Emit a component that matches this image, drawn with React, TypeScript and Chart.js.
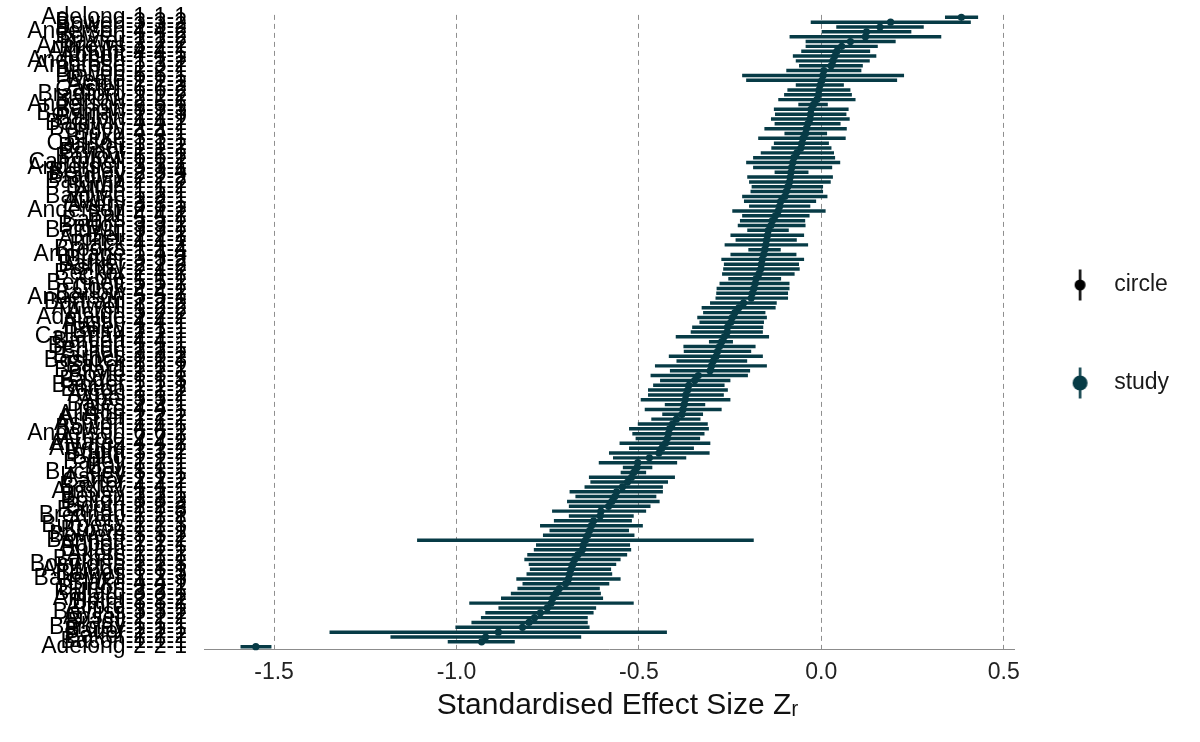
import React, { useEffect, useRef } from 'react';
import { Chart, registerables } from 'chart.js';

Chart.register(...registerables);

// ---- data (top row first) ----
const studyLabels = [
  'Adelong-1-1-1', 'Bowen-3-3-2', 'Bowen-2-3-2', 'Anderson-4-4-2', 'Bowen-1-1-2', 'Baxter-2-2-2', 'Andrews-3-2-2', 'Albright-4-4-1', 'Abbott-4-4-1', 'Anderson-1-1-2',
  'Ambrose-1-3-2', 'Bishop-2-2-1', 'Bowen-5-5-1', 'Beale-1-1-1', 'Acton-2-2-2', 'Castell-6-6-2', 'Bradford-1-1-2', 'Barlow-2-2-2', 'Anderson-2-5-1', 'Barlow-3-3-3',
  'Bowman-2-2-3', 'Barlow-1-1-1', 'Baldwin-4-4-2', 'Bentley-2-2-1', 'Boyd-4-4-1', 'Burke-3-3-1', 'Carlson-1-1-1', 'Barker-1-1-2', 'Bryant-2-2-1', 'Barlow-5-5-2',
  'Campbell-1-1-2', 'Anderson-3-3-1', 'Bentley-2-3-4', 'Bradley-2-2-2', 'Baldwin-2-2-2', 'Burns-1-1-2', 'Allen-1-1-1', 'Baldwin-1-2-1', 'Atkins-2-2-1', 'Avery-3-3-1',
  'Anderson-2-1-2', 'Ball-4-4-2', 'Banks-5-5-1', 'Barton-3-3-2', 'Baldwin-3-3-1', 'Bell-2-2-2', 'Archer-1-1-1', 'Black-4-4-2', 'Brooks-1-1-4', 'Armitage-1-4-4',
  'Butler-3-3-2', 'Barker-2-2-2', 'Ashby-2-1-2', 'Becker-2-4-2', 'Cole-1-1-1', 'Bennett-5-5-2', 'Cook-2-2-1', 'Barlow-4-4-2', 'Anderson-5-5-1', 'Bartram-2-2-2',
  'Amwell-1-2-2', 'Acton-3-2-2', 'Adelaide-2-2-2', 'Austin-4-4-1', 'Bailey-1-1-1', 'Baird-2-1-1', 'Callahan-2-2-1', 'Bartlett-4-4-1', 'Benson-1-1-1', 'Bolton-2-2-1',
  'Barnes-3-3-2', 'Bostock-2-2-3', 'Baker-1-1-1', 'Ballard-2-2-2', 'Boyle-3-3-1', 'Baxter-1-1-3', 'Banner-1-1-1', 'Bacon-2-2-2', 'Ayres-1-1-2', 'Abel-3-3-1',
  'Bates-2-2-1', 'Bird-4-4-1', 'Allison-1-2-1', 'Archer-2-2-2', 'Ashton-1-1-1', 'Bowen-4-4-1', 'Anderson-6-6-2', 'Arnold-2-2-1', 'Alvarez-4-4-2', 'Atwood-1-1-1',
  'Bright-3-3-2', 'Bond-1-1-1', 'Bailey-2-2-1', 'Ball-1-1-1', 'Buckley-3-3-1', 'Astley-1-1-1', 'Carter-2-2-2', 'Baxter-4-4-1', 'Ainsley-1-1-1', 'Bevan-2-2-1',
  'Bolton-3-3-2', 'Booth-2-2-2', 'Barrett-1-1-3', 'Brennan-2-2-2', 'Avery-1-1-1', 'Burgess-2-2-3', 'Brown-1-1-1', 'Bowers-3-3-2', 'Bennett-1-1-2', 'Abbott-2-2-1',
  'Bolton-1-1-1', 'Akers-2-2-2', 'Barnes-1-1-1', 'Bosworth-2-2-3', 'Aldridge-3-3-1', 'Baines-1-1-3', 'Bakewell-1-2-3', 'Blake-4-4-1', 'Burton-2-2-2', 'Ballard-3-3-1',
  'Ambler-2-2-2', 'Baird-3-3-2', 'Alford-1-1-1', 'Bayliss-3-3-2', 'Ansell-2-2-2', 'Brady-1-1-1', 'Barclay-1-1-1', 'Bauer-2-2-1', 'Baker-2-2-2', 'Bacon-1-1-1',
  'Adelong-2-2-1',
];

const effectSizes = [
  0.384, 0.190, 0.161, 0.124, 0.121, 0.080, 0.056, 0.043, 0.037, 0.032,
  0.027, 0.007, 0.005, 0.002, -0.003, -0.006, -0.008, -0.012, -0.021, -0.028,
  -0.029, -0.031, -0.037, -0.041, -0.043, -0.050, -0.053, -0.056, -0.067, -0.075,
  -0.078, -0.081, -0.083, -0.085, -0.087, -0.092, -0.096, -0.100, -0.111, -0.114,
  -0.118, -0.126, -0.134, -0.138, -0.145, -0.147, -0.150, -0.152, -0.155, -0.158,
  -0.162, -0.164, -0.166, -0.171, -0.179, -0.181, -0.185, -0.189, -0.192, -0.213,
  -0.226, -0.237, -0.244, -0.248, -0.257, -0.258, -0.266, -0.273, -0.279, -0.284,
  -0.288, -0.296, -0.301, -0.305, -0.337, -0.347, -0.363, -0.366, -0.371, -0.373,
  -0.376, -0.379, -0.382, -0.397, -0.408, -0.416, -0.419, -0.422, -0.427, -0.437,
  -0.445, -0.471, -0.503, -0.505, -0.514, -0.520, -0.531, -0.545, -0.561, -0.566,
  -0.574, -0.583, -0.604, -0.606, -0.624, -0.630, -0.635, -0.640, -0.646, -0.652,
  -0.655, -0.667, -0.676, -0.681, -0.686, -0.690, -0.693, -0.701, -0.718, -0.727,
  -0.736, -0.740, -0.751, -0.770, -0.786, -0.801, -0.819, -0.885, -0.920, -0.931,
  -1.550,
];

const ciLower = [
  0.340, -0.028, 0.042, 0.002, -0.086, -0.042, -0.042, -0.054, -0.077, -0.069,
  -0.060, -0.095, -0.216, -0.205, -0.069, -0.092, -0.101, -0.117, -0.062, -0.129,
  -0.126, -0.137, -0.127, -0.155, -0.100, -0.172, -0.129, -0.136, -0.165, -0.186,
  -0.205, -0.186, -0.127, -0.202, -0.197, -0.190, -0.193, -0.216, -0.211, -0.197,
  -0.243, -0.216, -0.222, -0.228, -0.202, -0.248, -0.234, -0.264, -0.199, -0.248,
  -0.273, -0.266, -0.268, -0.271, -0.254, -0.278, -0.286, -0.287, -0.289, -0.304,
  -0.327, -0.323, -0.339, -0.333, -0.353, -0.357, -0.398, -0.307, -0.377, -0.376,
  -0.417, -0.396, -0.455, -0.414, -0.467, -0.441, -0.460, -0.474, -0.474, -0.494,
  -0.428, -0.483, -0.435, -0.465, -0.502, -0.526, -0.517, -0.508, -0.552, -0.526,
  -0.581, -0.570, -0.609, -0.543, -0.549, -0.636, -0.632, -0.648, -0.689, -0.673,
  -0.696, -0.691, -0.737, -0.691, -0.732, -0.770, -0.744, -0.762, -1.107, -0.781,
  -0.787, -0.805, -0.813, -0.801, -0.798, -0.807, -0.835, -0.818, -0.832, -0.850,
  -0.877, -0.964, -0.884, -0.920, -0.932, -0.958, -1.002, -1.347, -1.180, -1.023,
  -1.591,
];

const ciUpper = [
  0.429, 0.409, 0.280, 0.246, 0.328, 0.203, 0.154, 0.133, 0.150, 0.132,
  0.113, 0.109, 0.226, 0.207, 0.061, 0.079, 0.083, 0.093, 0.017, 0.074,
  0.068, 0.077, 0.052, 0.069, 0.015, 0.066, 0.020, 0.027, 0.034, 0.037,
  0.051, 0.029, -0.036, 0.031, 0.025, 0.004, 0.004, 0.016, -0.015, -0.031,
  0.011, -0.033, -0.045, -0.044, -0.090, -0.048, -0.068, -0.037, -0.112, -0.069,
  -0.048, -0.062, -0.060, -0.074, -0.111, -0.088, -0.088, -0.092, -0.092, -0.123,
  -0.126, -0.154, -0.150, -0.158, -0.160, -0.161, -0.144, -0.243, -0.181, -0.193,
  -0.161, -0.204, -0.150, -0.196, -0.202, -0.250, -0.266, -0.257, -0.268, -0.250,
  -0.319, -0.274, -0.325, -0.332, -0.312, -0.309, -0.321, -0.333, -0.305, -0.350,
  -0.307, -0.371, -0.396, -0.464, -0.481, -0.402, -0.421, -0.435, -0.435, -0.453,
  -0.444, -0.469, -0.481, -0.515, -0.520, -0.490, -0.528, -0.513, -0.186, -0.525,
  -0.522, -0.533, -0.551, -0.563, -0.577, -0.574, -0.551, -0.582, -0.608, -0.605,
  -0.599, -0.515, -0.618, -0.625, -0.641, -0.641, -0.636, -0.424, -0.659, -0.841,
  -1.508,
];

const xTickValues = [-1.5, -1.0, -0.5, 0.0, 0.5];
const legendNames = ['circle', 'study'];
const xAxisTitle = '  Standardised Effect Size Zᵣ';

// ---- styling ----
const TEAL = '#073b46';
const FONT = '"Liberation Sans", Arial, Helvetica, sans-serif';

function makeGlyph(color: string, radius: number, offsetX: number): HTMLCanvasElement {
  const c = document.createElement('canvas');
  c.width = 60;
  c.height = 40;
  const g = c.getContext('2d') as CanvasRenderingContext2D;
  const cx = 30 + offsetX;
  const cy = 20;
  g.strokeStyle = color;
  g.lineWidth = 2.5;
  g.beginPath();
  g.moveTo(cx, cy - 15.5);
  g.lineTo(cx, cy + 15.5);
  g.stroke();
  g.fillStyle = color;
  g.beginPath();
  g.arc(cx, cy, radius, 0, Math.PI * 2);
  g.fill();
  return c;
}

function makeBlank(): HTMLCanvasElement {
  const c = document.createElement('canvas');
  c.width = 1;
  c.height = 1;
  return c;
}

const App = () => {
  const ref = useRef<HTMLCanvasElement | null>(null);

  useEffect(() => {
    if (!ref.current) return;
    Chart.defaults.font.family = FONT;

    const glyphCircle = makeGlyph('#000000', 5.5, 8.4);
    const glyphStudy = makeGlyph(TEAL, 7.5, 8.4);
    const blank = makeBlank();

    const legendItem = (text: string, style: HTMLCanvasElement, idx: number) => ({
      text,
      pointStyle: style,
      fillStyle: 'rgba(0,0,0,0)',
      strokeStyle: 'rgba(0,0,0,0)',
      lineWidth: 0,
      hidden: false,
      datasetIndex: idx,
      fontColor: '#1a1a1a',
    });

    const chart = new Chart(ref.current, {
      type: 'bar',
      data: {
        labels: studyLabels,
        datasets: [
          {
            type: 'line',
            label: 'study',
            data: effectSizes,
            indexAxis: 'y',
            showLine: false,
            pointRadius: 3.6,
            pointHoverRadius: 3.6,
            pointBackgroundColor: TEAL,
            pointBorderWidth: 0,
            borderColor: TEAL,
            order: 0,
          } as any,
          {
            type: 'bar',
            label: 'interval',
            data: studyLabels.map((_, i) => [ciLower[i], ciUpper[i]]),
            indexAxis: 'y',
            backgroundColor: TEAL,
            borderWidth: 0,
            barThickness: 2.8,
            order: 1,
          } as any,
        ],
      },
      options: {
        indexAxis: 'y',
        responsive: false,
        animation: false,
        devicePixelRatio: 1,
        events: [],
        layout: { padding: { top: 14.9, right: 20.9, bottom: 0, left: 0 } },
        scales: {
          x: {
            type: 'linear',
            position: 'bottom',
            min: -1.692,
            max: 0.53,
            afterBuildTicks: (scale: any) => {
              scale.ticks = xTickValues.map((v) => ({ value: v }));
            },
            afterFit: (scale: any) => {
              scale.height = 92.9;
            },
            ticks: {
              padding: 10,
              autoSkip: false,
              maxRotation: 0,
              color: '#222222',
              font: { size: 23, family: FONT },
              callback: (v: any) => Number(v).toFixed(1),
            },
            grid: { color: '#8f8f8f', lineWidth: 1, drawTicks: false },
            border: { display: true, color: '#8c8c8c', width: 1, dash: [5, 4] },
            title: {
              display: true,
              text: xAxisTitle,
              color: '#111111',
              font: { size: 30, family: FONT },
              padding: { top: 0, bottom: 18.5 },
            },
          },
          y: {
            type: 'category',
            offset: true,
            afterFit: (scale: any) => {
              scale.width = 204;
              scale.paddingTop = 0;
              scale.paddingBottom = 0;
            },
            ticks: {
              autoSkip: false,
              padding: 17,
              color: '#000000',
              font: { size: 23, family: FONT },
            },
            grid: { display: false, drawTicks: false },
            border: { display: false },
          },
        },
        plugins: {
          tooltip: { enabled: false },
          legend: {
            display: true,
            position: 'right',
            fullSize: false,
            align: 'center',
            onClick: () => {},
            title: {
              display: true,
              text: '',
              font: { size: 2 },
              padding: { top: 1.6, bottom: 0 },
            },
            labels: {
              usePointStyle: true,
              pointStyleWidth: 62,
              padding: 26,
              color: '#1a1a1a',
              font: { size: 23, family: FONT },
              generateLabels: () => [
                legendItem(legendNames[0], glyphCircle, 0),
                legendItem('', blank, 0),
                legendItem(legendNames[1], glyphStudy, 0),
              ],
            },
          },
        },
      } as any,
    });

    return () => {
      chart.destroy();
    };
  }, []);

  return (
    <div style={{ position: 'absolute', left: 0, top: 0, width: 1200, height: 742, background: '#ffffff' }}>
      <canvas ref={ref} width={1200} height={742} style={{ display: 'block', width: 1200, height: 742 }} />
    </div>
  );
};

export default App;
